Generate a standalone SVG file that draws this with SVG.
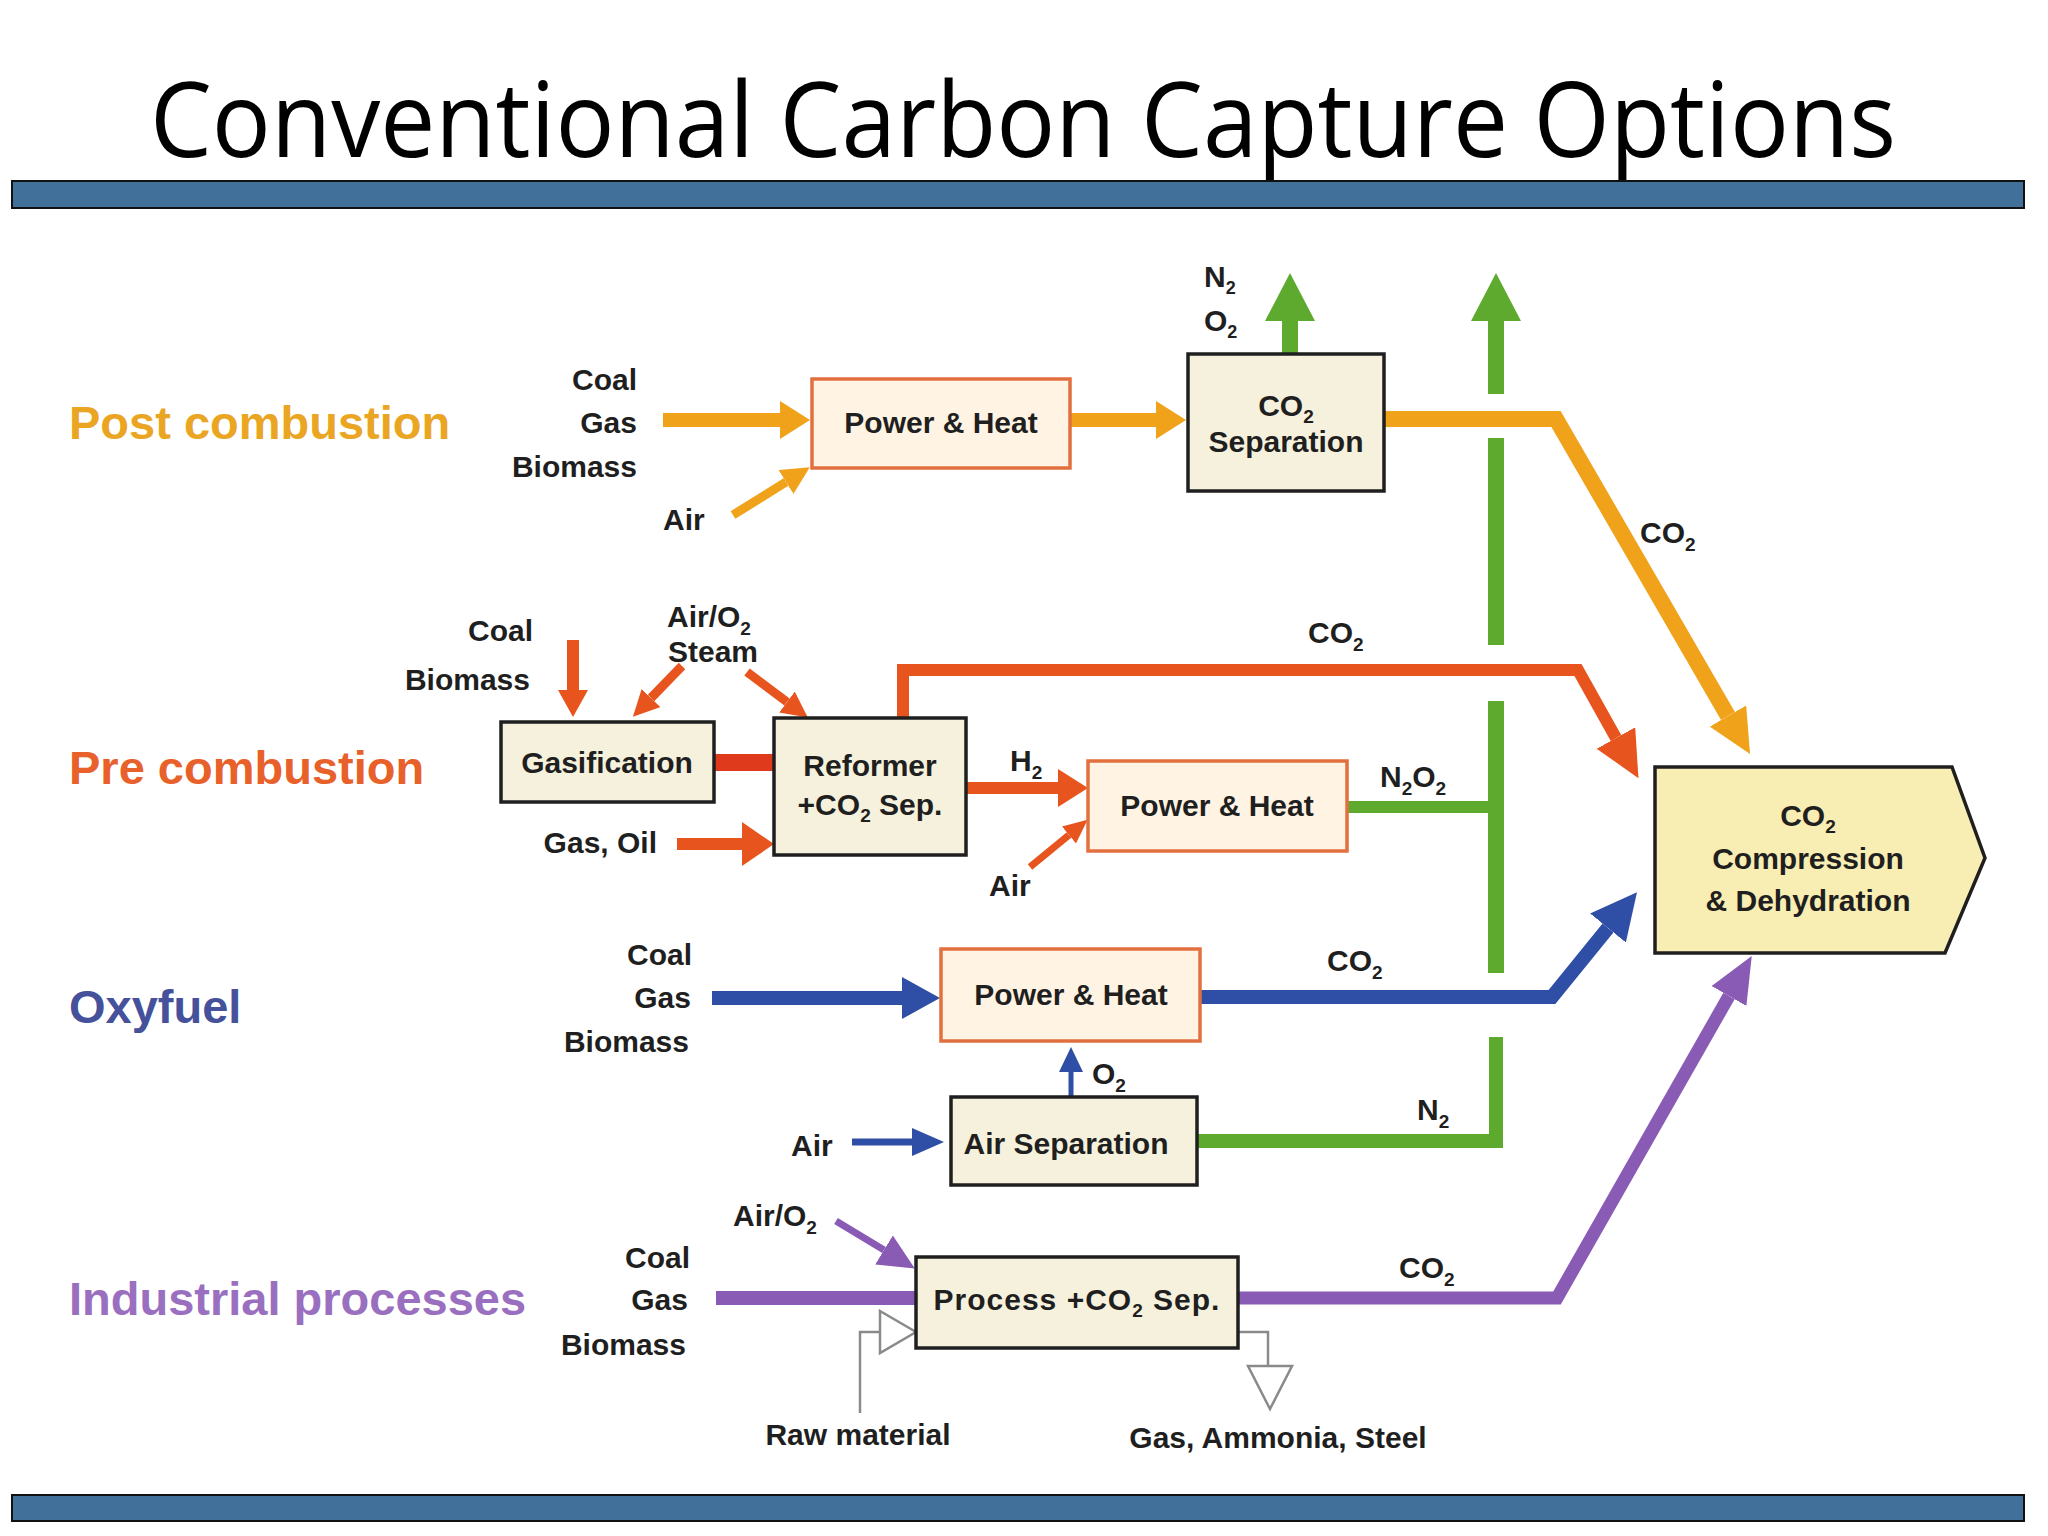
<svg xmlns="http://www.w3.org/2000/svg" width="2048" height="1536" viewBox="0 0 2048 1536">
<defs>
<style>
.t{font-family:"Liberation Sans",Arial,sans-serif;font-weight:bold;font-size:30px;fill:#1f1f1f}
.m{text-anchor:middle}
.e{text-anchor:end}
.cat{font-family:"Liberation Sans",Arial,sans-serif;font-weight:bold;font-size:47px}
.box{fill:#F5F1DC;stroke:#1f1f1f;stroke-width:3.5}
.ph{fill:#FFF4E3;stroke:#E2703F;stroke-width:3.5}
.ln{fill:none;stroke-linecap:butt;stroke-linejoin:miter}
.or{stroke:#F0A21A}
.rd{stroke:#E8541E}
.bl{stroke:#2F4EA5}
.gr{stroke:#5DAA2F}
.pu{stroke:#8A5BB5}
.hol{fill:#fff;stroke:#8a8a8a;stroke-width:2.5}
.bar{fill:#41709B;stroke:#111;stroke-width:2}
</style>
<marker id="orL" markerUnits="userSpaceOnUse" viewBox="0 0 30 38" markerWidth="30" markerHeight="38" refX="0" refY="19" orient="auto"><path d="M0,0 L30,19 L0,38 z" fill="#F0A21A"/></marker>
<marker id="orS" markerUnits="userSpaceOnUse" viewBox="0 0 28 28" markerWidth="28" markerHeight="28" refX="0" refY="14" orient="auto"><path d="M0,0 L28,14 L0,28 z" fill="#F0A21A"/></marker>
<marker id="orD" markerUnits="userSpaceOnUse" viewBox="0 0 44 42" markerWidth="44" markerHeight="42" refX="0" refY="21" orient="auto"><path d="M0,0 L44,21 L0,42 z" fill="#F0A21A"/></marker>
<marker id="grL" markerUnits="userSpaceOnUse" viewBox="0 0 48 50" markerWidth="48" markerHeight="50" refX="0" refY="25" orient="auto"><path d="M0,0 L48,25 L0,50 z" fill="#5DAA2F"/></marker>
<marker id="rdS" markerUnits="userSpaceOnUse" viewBox="0 0 27 30" markerWidth="27" markerHeight="30" refX="0" refY="15" orient="auto"><path d="M0,0 L27,15 L0,30 z" fill="#E8541E"/></marker>
<marker id="rdT" markerUnits="userSpaceOnUse" viewBox="0 0 26 26" markerWidth="26" markerHeight="26" refX="0" refY="13" orient="auto"><path d="M0,0 L26,13 L0,26 z" fill="#E8541E"/></marker>
<marker id="rdM" markerUnits="userSpaceOnUse" viewBox="0 0 32 44" markerWidth="32" markerHeight="44" refX="0" refY="22" orient="auto"><path d="M0,0 L32,22 L0,44 z" fill="#E8541E"/></marker>
<marker id="rdH" markerUnits="userSpaceOnUse" viewBox="0 0 30 38" markerWidth="30" markerHeight="38" refX="0" refY="19" orient="auto"><path d="M0,0 L30,19 L0,38 z" fill="#E8541E"/></marker>
<marker id="rdD" markerUnits="userSpaceOnUse" viewBox="0 0 46 44" markerWidth="46" markerHeight="44" refX="0" refY="22" orient="auto"><path d="M0,0 L46,22 L0,44 z" fill="#E8541E"/></marker>
<marker id="rdX" markerUnits="userSpaceOnUse" viewBox="0 0 24 22" markerWidth="24" markerHeight="22" refX="0" refY="11" orient="auto"><path d="M0,0 L24,11 L0,22 z" fill="#E8541E"/></marker>
<marker id="blL" markerUnits="userSpaceOnUse" viewBox="0 0 38 42" markerWidth="38" markerHeight="42" refX="0" refY="21" orient="auto"><path d="M0,0 L38,21 L0,42 z" fill="#2F4EA5"/></marker>
<marker id="blD" markerUnits="userSpaceOnUse" viewBox="0 0 46 46" markerWidth="46" markerHeight="46" refX="0" refY="23" orient="auto"><path d="M0,0 L46,23 L0,46 z" fill="#2F4EA5"/></marker>
<marker id="blS" markerUnits="userSpaceOnUse" viewBox="0 0 25 24" markerWidth="25" markerHeight="24" refX="0" refY="12" orient="auto"><path d="M0,0 L25,12 L0,24 z" fill="#2F4EA5"/></marker>
<marker id="blA" markerUnits="userSpaceOnUse" viewBox="0 0 32 28" markerWidth="32" markerHeight="28" refX="0" refY="14" orient="auto"><path d="M0,0 L32,14 L0,28 z" fill="#2F4EA5"/></marker>
<marker id="puD" markerUnits="userSpaceOnUse" viewBox="0 0 46 40" markerWidth="46" markerHeight="40" refX="0" refY="20" orient="auto"><path d="M0,0 L46,20 L0,40 z" fill="#8A5BB5"/></marker>
<marker id="puM" markerUnits="userSpaceOnUse" viewBox="0 0 36 34" markerWidth="36" markerHeight="34" refX="0" refY="17" orient="auto"><path d="M0,0 L36,17 L0,34 z" fill="#8A5BB5"/></marker>
</defs>
<rect width="2048" height="1536" fill="#ffffff"/>

<g id="title">
<text x="150" y="157" font-family="'Open Sans','Noto Sans',sans-serif" font-size="104" fill="#000" textLength="1746" lengthAdjust="spacingAndGlyphs">Conventional Carbon Capture Options</text>
<rect class="bar" x="12" y="181" width="2012" height="27"/>
<rect class="bar" x="12" y="1495" width="2012" height="26"/>
</g>

<g id="category-labels">
<text class="cat" x="69" y="439" fill="#EAA623">Post combustion</text>
<text class="cat" x="69" y="784" fill="#E8602A">Pre combustion</text>
<text class="cat" x="69" y="1023" fill="#45519A">Oxyfuel</text>
<text class="cat" x="69" y="1315" fill="#9A6FBF">Industrial processes</text>
</g>

<g id="connectors">
<!-- post combustion -->
<path class="ln or" stroke-width="14" d="M663,420 H780" marker-end="url(#orL)"/>
<path class="ln or" stroke-width="9" d="M733,515 L786,482" marker-end="url(#orS)"/>
<path class="ln or" stroke-width="14" d="M1071,420 H1156" marker-end="url(#orL)"/>
<path class="ln or" stroke-width="16" d="M1384,419 H1556 L1728,716" marker-end="url(#orD)"/>
<path class="ln gr" stroke-width="16" d="M1290,354 V321" marker-end="url(#grL)"/>
<!-- green vent line -->
<path class="ln gr" stroke-width="16" d="M1496,394 V321" marker-end="url(#grL)"/>
<path class="ln gr" stroke-width="16" d="M1496,438 V645"/>
<path class="ln gr" stroke-width="16" d="M1496,701 V973"/>
<path class="ln gr" stroke-width="14" d="M1198,1141 H1496 V1037"/>
<path class="ln gr" stroke-width="12" d="M1348,807 H1496"/>
<!-- pre combustion -->
<path class="ln rd" stroke-width="12" d="M573,640 V690" marker-end="url(#rdS)"/>
<path class="ln rd" stroke-width="9" d="M682,666 L651,698" marker-end="url(#rdT)"/>
<path class="ln rd" stroke-width="9" d="M747,672 L787,702" marker-end="url(#rdT)"/>
<rect x="714" y="754" width="60" height="17" fill="#E03A1C"/>
<path class="ln rd" stroke-width="12" d="M677,844 H742" marker-end="url(#rdM)"/>
<path class="ln rd" stroke-width="12" d="M903,718 V670 H1578 L1616,738" marker-end="url(#rdD)"/>
<path class="ln rd" stroke-width="12" d="M967,788 H1058" marker-end="url(#rdH)"/>
<path class="ln rd" stroke-width="7" d="M1030,867 L1069,835" marker-end="url(#rdX)"/>
<!-- oxyfuel -->
<path class="ln bl" stroke-width="14" d="M712,998 H902" marker-end="url(#blL)"/>
<path class="ln bl" stroke-width="14" d="M1201,997 H1552 L1608,928" marker-end="url(#blD)"/>
<path class="ln bl" stroke-width="5" d="M1071,1097 V1072" marker-end="url(#blS)"/>
<path class="ln bl" stroke-width="7" d="M852,1142 H912" marker-end="url(#blA)"/>
<!-- industrial -->
<path class="ln pu" stroke-width="14" d="M716,1298 H916"/>
<path class="ln pu" stroke-width="13" d="M1238,1298 H1557 L1729,996" marker-end="url(#puD)"/>
<path class="ln pu" stroke-width="7" d="M836,1221 L884,1250" marker-end="url(#puM)"/>
<path class="ln" stroke="#8a8a8a" stroke-width="2.5" d="M860,1413 V1332 H880"/>
<polygon class="hol" points="880,1311 916,1332 880,1353"/>
<path class="ln" stroke="#8a8a8a" stroke-width="2.5" d="M1238,1332 H1268 V1366"/>
<polygon class="hol" points="1248,1366 1292,1366 1270,1409"/>
</g>

<g id="post-inputs">
<text class="t e" x="637" y="390">Coal</text>
<text class="t e" x="637" y="433">Gas</text>
<text class="t e" x="637" y="477">Biomass</text>
<text class="t" x="663" y="530">Air</text>
</g>
<g id="post-power-heat">
<rect class="ph" x="812" y="379" width="258" height="89"/>
<text class="t m" x="941" y="433">Power &amp; Heat</text>
</g>
<g id="post-co2-separation">
<rect class="box" x="1188" y="354" width="196" height="137"/>
<text class="t m" x="1286" y="416">CO<tspan font-size="19" dy="7">2</tspan></text>
<text class="t m" x="1286" y="452">Separation</text>
</g>
<g id="post-labels">
<text class="t" x="1204" y="287" font-size="28">N<tspan font-size="18" dy="7">2</tspan></text>
<text class="t" x="1204" y="331" font-size="28">O<tspan font-size="18" dy="7">2</tspan></text>
<text class="t" x="1640" y="543">CO<tspan font-size="19" dy="8">2</tspan></text>
</g>

<g id="pre-inputs">
<text class="t e" x="533" y="641">Coal</text>
<text class="t e" x="530" y="690">Biomass</text>
<text class="t" x="667" y="627">Air/O<tspan font-size="19" dy="8">2</tspan></text>
<text class="t" x="668" y="662">Steam</text>
<text class="t e" x="657" y="853">Gas, Oil</text>
<text class="t" x="1308" y="643">CO<tspan font-size="19" dy="8">2</tspan></text>
<text class="t" x="1010" y="771">H<tspan font-size="19" dy="8">2</tspan></text>
<text class="t" x="989" y="896">Air</text>
<text class="t" x="1380" y="787">N<tspan font-size="19" dy="8">2</tspan><tspan dy="-8">O</tspan><tspan font-size="19" dy="8">2</tspan></text>
</g>
<g id="pre-gasification">
<rect class="box" x="501" y="722" width="213" height="80"/>
<text class="t m" x="607" y="773">Gasification</text>
</g>
<g id="pre-reformer">
<rect class="box" x="774" y="718" width="192" height="137"/>
<text class="t m" x="870" y="776">Reformer</text>
<text class="t m" x="870" y="815">+CO<tspan font-size="19" dy="7">2</tspan><tspan dy="-7"> Sep.</tspan></text>
</g>
<g id="pre-power-heat">
<rect class="ph" x="1088" y="761" width="259" height="90"/>
<text class="t m" x="1217" y="816">Power &amp; Heat</text>
</g>

<g id="oxy-inputs">
<text class="t e" x="692" y="965">Coal</text>
<text class="t e" x="691" y="1008">Gas</text>
<text class="t e" x="689" y="1052">Biomass</text>
<text class="t" x="1327" y="971">CO<tspan font-size="19" dy="8">2</tspan></text>
<text class="t" x="1092" y="1084">O<tspan font-size="19" dy="8">2</tspan></text>
<text class="t" x="791" y="1156">Air</text>
<text class="t" x="1417" y="1120">N<tspan font-size="19" dy="8">2</tspan></text>
</g>
<g id="oxy-power-heat">
<rect class="ph" x="941" y="949" width="259" height="92"/>
<text class="t m" x="1071" y="1005">Power &amp; Heat</text>
</g>
<g id="oxy-air-separation">
<rect class="box" x="951" y="1097" width="246" height="88"/>
<text class="t m" x="1066" y="1154">Air Separation</text>
</g>

<g id="ind-inputs">
<text class="t e" x="690" y="1268">Coal</text>
<text class="t e" x="688" y="1310">Gas</text>
<text class="t e" x="686" y="1355">Biomass</text>
<text class="t" x="733" y="1226">Air/O<tspan font-size="19" dy="8">2</tspan></text>
<text class="t" x="1399" y="1278">CO<tspan font-size="19" dy="8">2</tspan></text>
<text class="t m" x="858" y="1445">Raw material</text>
<text class="t m" x="1278" y="1448">Gas, Ammonia, Steel</text>
</g>
<g id="ind-process">
<rect class="box" x="916" y="1257" width="322" height="91"/>
<text class="t m" x="1077" y="1310" letter-spacing="1">Process +CO<tspan font-size="19" dy="7">2</tspan><tspan dy="-7"> Sep.</tspan></text>
</g>

<g id="co2-compression">
<polygon points="1655,767 1952,767 1985,858 1945,953 1655,953" fill="#F8EDB2" stroke="#1f1f1f" stroke-width="3.5"/>
<text class="t m" x="1808" y="826">CO<tspan font-size="19" dy="7">2</tspan></text>
<text class="t m" x="1808" y="869">Compression</text>
<text class="t m" x="1808" y="911">&amp; Dehydration</text>
</g>
</svg>
